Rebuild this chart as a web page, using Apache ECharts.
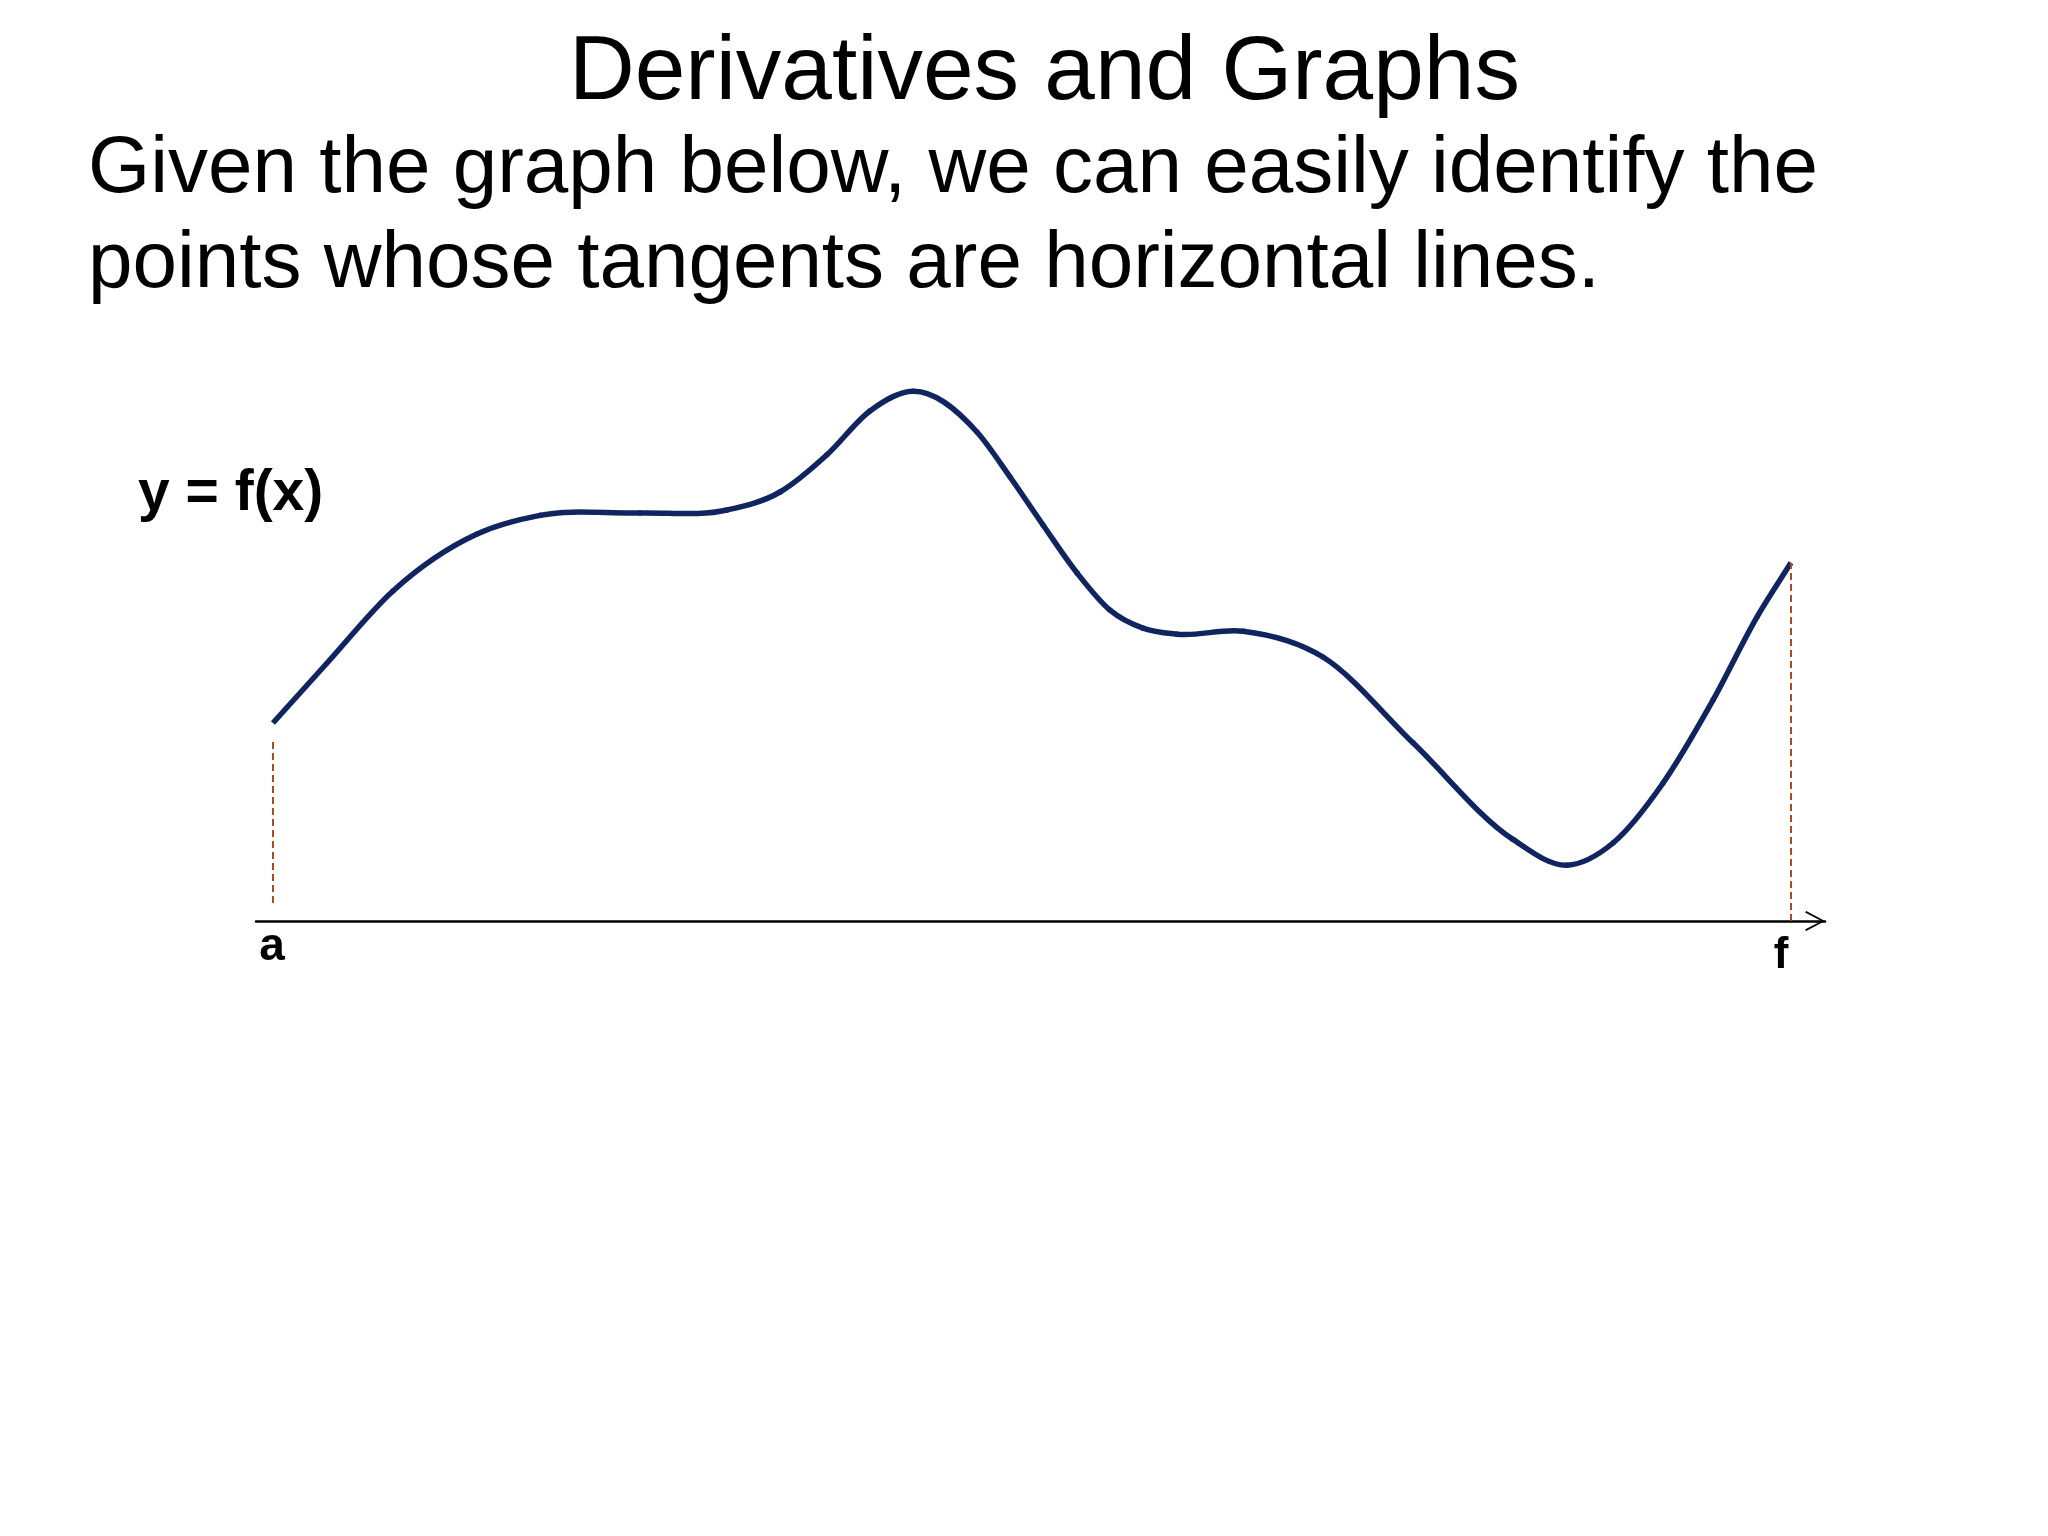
<!DOCTYPE html>
<html>
<head>
<meta charset="utf-8">
<script src="https://cdn.jsdelivr.net/npm/echarts@6/dist/echarts.min.js"></script>
<style>
  html, body { margin: 0; padding: 0; background: #ffffff; }
  #chart { width: 2048px; height: 1536px; }
</style>
</head>
<body>
<div id="chart"></div>
<script>
// ---- data ----
const titleText = 'Derivatives and Graphs';
const bodyLines = [
  'Given the graph below, we can easily identify the',
  'points whose tangents are horizontal lines.'
];
const curveLabel = 'y = f(x)';
const endLabels = ['a', 'f'];

// anchor points of the curve (x from a=0.108 to f=9.783)
const xs = [0.108, 0.453, 0.873, 1.409, 1.810, 2.447, 3.002, 3.340, 3.639, 3.913,
            4.187, 4.595, 4.806, 5.016, 5.233, 5.443, 5.653, 5.870, 6.291, 6.800,
            7.374, 8.011, 8.356, 8.649, 8.968, 9.286, 9.567, 9.783];
const ys = [3.30, 4.30, 5.50, 6.45, 6.76, 6.80, 6.85, 7.15, 7.77, 8.50,
            8.83, 8.15, 7.40, 6.60, 5.80, 5.18, 4.88, 4.78, 4.83, 4.40,
            2.97, 1.36, 0.93, 1.30, 2.30, 3.68, 5.07, 5.97];

const curve = xs.map((x, i) => [x, ys[i]]);
const x0 = xs[0], y0 = ys[0];
const xN = xs[xs.length - 1], yN = ys[ys.length - 1];
const N = xs.length;

const chart = echarts.init(document.getElementById('chart'), null, { renderer: 'canvas' });

const FONT = '"Liberation Sans", Arial, Helvetica, sans-serif';
const CURVE_COLOR = '#10255f';

function txt(id, x, y, text, font, align) {
  return { type: 'text', id: id, x: x, y: y, silent: true,
           style: { text: text, font: font, fill: '#000', align: align || 'left', verticalAlign: 'middle' } };
}

// smooth (cubic Hermite in x) rendering of the data points, mapped through the axes
function renderCurve(params, api) {
  const i = params.dataIndex;
  if (i >= N - 1) return null;
  const P = [];
  for (let k = 0; k < N; k++) P.push(api.coord([xs[k], ys[k]]));
  const h = [], d = [];
  for (let k = 0; k < N - 1; k++) {
    h.push(P[k + 1][0] - P[k][0]);
    d.push((P[k + 1][1] - P[k][1]) / h[k]);
  }
  function slope(k) {
    if (k === 0) return d[0];
    if (k === N - 1) return d[N - 2];
    return (h[k] * d[k - 1] + h[k - 1] * d[k]) / (h[k - 1] + h[k]);
  }
  const a = P[i], b = P[i + 1], hh = h[i];
  const s0 = slope(i), s1 = slope(i + 1);
  const cap = (i === 0 || i === N - 2) ? 'butt' : 'round';
  return {
    type: 'bezierCurve',
    shape: {
      x1: a[0], y1: a[1], x2: b[0], y2: b[1],
      cpx1: a[0] + hh / 3, cpy1: a[1] + s0 * hh / 3,
      cpx2: b[0] - hh / 3, cpy2: b[1] - s1 * hh / 3
    },
    style: { stroke: CURVE_COLOR, lineWidth: 5.5, fill: 'none', lineCap: cap },
    silent: true
  };
}

chart.setOption({
  backgroundColor: '#ffffff',
  animation: false,
  grid: { left: 256, right: 223, top: 321, bottom: 615, outerBoundsMode: 'none', containLabel: false },
  xAxis: {
    type: 'value', min: 0, max: 10,
    axisLine: {
      show: true, onZero: false,
      lineStyle: { color: '#000000', width: 2.5 },
      symbol: ['none', 'path://M10,0 L20,18.8 L18.4,20 L10,3.6 L1.6,20 L0,18.8 Z'],
      symbolSize: [20, 20],
      symbolOffset: [0, -10]
    },
    axisTick: { show: false },
    axisLabel: { show: false },
    splitLine: { show: false }
  },
  yAxis: {
    type: 'value', min: 0, max: 10, show: false,
    splitLine: { show: false }
  },
  series: [
    {
      type: 'custom',
      data: curve,
      encode: { x: 0, y: 1 },
      renderItem: renderCurve,
      silent: true,
      clip: false
    },
    {
      type: 'line',
      data: curve,
      showSymbol: false,
      silent: true,
      lineStyle: { width: 0, opacity: 0 },
      markLine: {
        silent: true,
        symbol: ['none', 'none'],
        label: { show: false },
        lineStyle: { color: '#a84c24', width: 2, type: [7, 4], opacity: 1 },
        data: [
          [{ coord: [x0, 0.3] }, { coord: [x0, y0 - 0.25] }],
          [{ coord: [xN, 0] }, { coord: [xN, yN] }]
        ]
      }
    }
  ],
  graphic: [
    txt('t0', 569, 74, titleText, '91px ' + FONT),
    txt('t1', 88, 170, bodyLines[0], '80px ' + FONT),
    txt('t2', 88, 265, bodyLines[1], '80px ' + FONT),
    txt('t3', 138, 494, curveLabel, 'bold 57px ' + FONT),
    txt('t4', 272, 947, endLabels[0], 'bold 46px ' + FONT, 'center'),
    txt('t5', 1781, 956, endLabels[1], 'bold 44px ' + FONT, 'center')
  ]
});
</script>
</body>
</html>
